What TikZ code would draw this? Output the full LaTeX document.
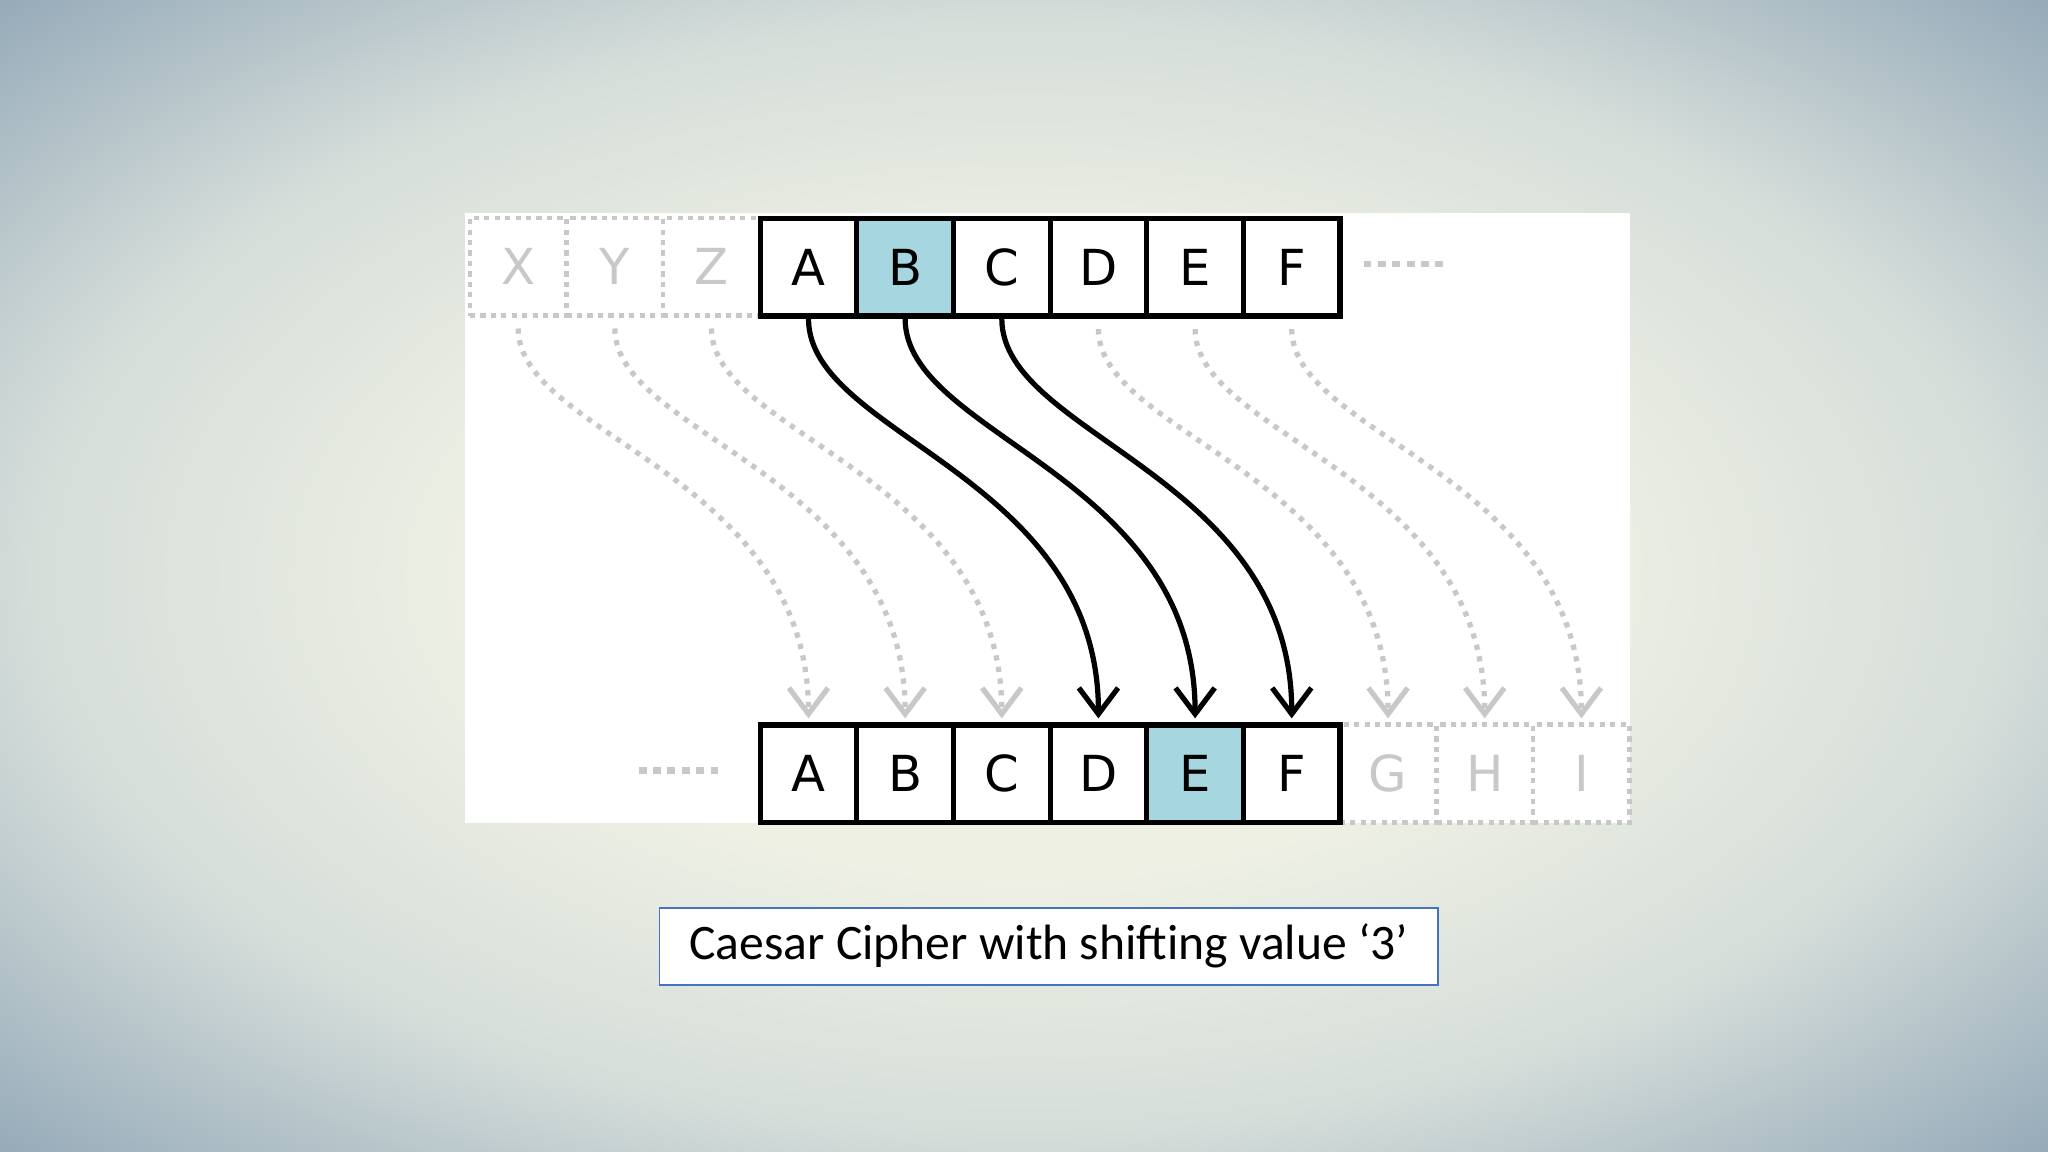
\documentclass[tikz,border=0pt]{standalone}
\usepackage{fontspec}
\setmainfont{Carlito}
\newfontfamily\boxfont{DejaVu Sans}
\usetikzlibrary{arrows.meta}
\definecolor{cyanfill}{HTML}{A6D6DF}
\definecolor{ghost}{HTML}{C8C8C8}
\definecolor{bgin}{HTML}{EEF0E4}
\definecolor{bgmid}{HTML}{D6DEDA}
\definecolor{bgout}{HTML}{8CA3B4}
\definecolor{capblue}{HTML}{4472C4}
\pgfdeclareradialshading{bgshade}{\pgfpoint{0bp}{0bp}}{color(0bp)=(bgin); color(13bp)=(bgin); color(24bp)=(bgmid); color(37bp)=(bgout); color(50bp)=(bgout)}
\tikzset{
  cell/.style={draw=black,line width=4pt,minimum width=74pt,minimum height=75pt,inner sep=0pt,font=\boxfont\fontsize{38}{40}\selectfont,anchor=north west},
  gcell/.style={draw=ghost,line width=3.5pt,dash pattern=on 4pt off 4pt,minimum width=74pt,minimum height=75pt,inner sep=0pt,font=\boxfont\fontsize{38}{40}\selectfont,text=ghost,anchor=north west},
  blk/.style={line width=4pt,-{Straight Barb[length=20pt,width=30pt,line width=4pt]}},
  gry/.style={draw=ghost,line width=4pt,dash pattern=on 4pt off 5pt,-{Straight Barb[length=20pt,width=30pt,line width=4pt]}},
}
\begin{document}
\begin{tikzpicture}[x=1pt,y=1pt]
\useasboundingbox (0,0) rectangle (1568,-882);
\shade[shading=bgshade] (0,0) rectangle (1568,-882);
\fill[white] (356,-163) rectangle (1248,-630);
% ghost cells first
\node[gcell] (tX) at (358,-165) {X};
\node[gcell] (tY) at (432,-165) {Y};
\node[gcell] (tZ) at (506,-165) {Z};
\node[gcell] (bG) at (1024,-553) {G};
\node[gcell] (bH) at (1098,-553) {H};
\node[gcell] (bI) at (1172,-553) {I};
% top row
\node[cell] (tA) at (580,-165) {A};
\node[cell,fill=cyanfill] (tB) at (654,-165) {B};
\node[cell] (tC) at (728,-165) {C};
\node[cell] (tD) at (802,-165) {D};
\node[cell] (tE) at (876,-165) {E};
\node[cell] (tF) at (950,-165) {F};
\coordinate (td1) at (1044,-202); \coordinate (td2) at (1108,-202);
\draw[ghost,line width=5pt,dash pattern=on 6pt off 5pt] (td1) -- (td2);
% bottom row
\node[cell] (bA) at (580,-553) {A};
\node[cell] (bB) at (654,-553) {B};
\node[cell] (bC) at (728,-553) {C};
\node[cell] (bD) at (802,-553) {D};
\node[cell,fill=cyanfill] (bE) at (876,-553) {E};
\node[cell] (bF) at (950,-553) {F};
\coordinate (bd1) at (489,-590); \coordinate (bd2) at (553,-590);
\draw[ghost,line width=5pt,dash pattern=on 6pt off 5pt] (bd1) -- (bd2);
% arrows
\foreach \s/\t in {tX/bA,tY/bB,tZ/bC,tD/bG,tE/bH,tF/bI}{
  \draw[gry] ([yshift=-8pt]\s.south) .. controls ([yshift=-90pt]\s.south) and ([yshift=190pt]\t.north) .. ([yshift=3pt]\t.north);
}
\foreach \s/\t in {tA/bD,tB/bE,tC/bF}{
  \draw[blk] (\s.south) .. controls ([yshift=-90pt]\s.south) and ([yshift=190pt]\t.north) .. ([yshift=3pt]\t.north);
}
\node[draw=capblue,fill=white,line width=1.2pt,minimum width=596pt,minimum height=59pt,font=\fontsize{38}{42}\selectfont] (cap) at (803,-724.5) {Caesar Cipher with shifting value ‘3’};
\end{tikzpicture}
\end{document}
